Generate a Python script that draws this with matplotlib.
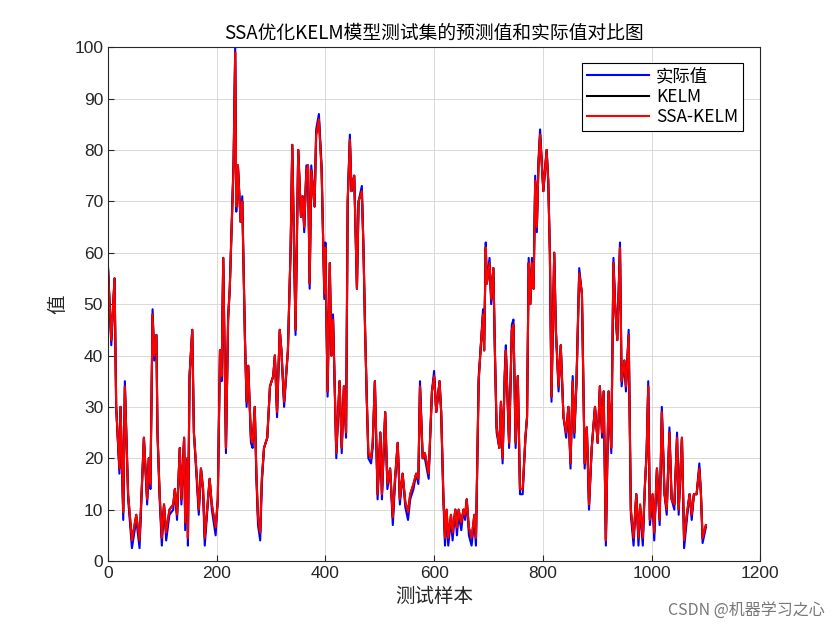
import matplotlib
matplotlib.use("Agg")
import matplotlib.pyplot as plt
from matplotlib import font_manager as fm

cjk_path = None
allf = fm.findSystemFonts()
for pref in ["NotoSansCJK-Regular", "NotoSansCJKsc-Regular", "NotoSansSC", "NotoSansCJK"]:
    hits = [p for p in allf if pref in p]
    if hits:
        cjk_path = sorted(hits)[0]
        break
if cjk_path is None:
    hits = [p for p in allf if "CJK" in p]
    cjk_path = sorted(hits)[0]
fm.fontManager.addfont(cjk_path)
cjk_name = fm.FontProperties(fname=cjk_path).get_name()
plt.rcParams["font.family"] = "sans-serif"
plt.rcParams["font.sans-serif"] = ["Liberation Sans", cjk_name, "DejaVu Sans"]
cjk = lambda size: fm.FontProperties(fname=cjk_path, size=size)

sample_idx = [0,6,12,15,21,23,28,31,37,44,52,58,66,72,75,78,82,85,89,91,95,99,103,107,113,120,123,127,132,135,
140,142,146,147,150,155,158,163,167,171,175,178,187,191,198,202,206,209,212,217,221,224,228,231,234,236,239,244,247,250,
252,255,258,263,266,270,273,276,280,283,287,293,298,304,307,311,316,319,324,331,336,339,345,350,355,358,361,365,368,371,
374,380,383,388,393,398,400,404,408,411,414,416,420,426,430,434,438,441,445,448,453,458,461,467,470,473,476,479,484,487,
491,496,501,504,510,514,519,524,528,533,537,542,547,552,556,562,567,571,574,579,583,590,596,600,604,610,613,617,620,623,
626,631,634,639,642,645,650,654,657,660,664,669,674,677,682,686,690,692,695,697,702,705,709,712,715,720,723,726,730,732,
738,743,746,750,754,758,763,768,771,774,777,780,783,786,789,792,795,801,807,810,813,816,821,824,829,833,838,843,847,851,
855,858,862,867,872,877,881,885,890,896,901,905,909,912,916,921,926,930,933,937,942,945,950,953,958,962,967,972,976,979,
984,988,991,994,997,1002,1005,1010,1015,1019,1024,1028,1033,1037,1042,1047,1050,1056,1060,1065,1070,1074,1078,1083,1088,1091,1094,1100]
actual = [57,42,55,30,17,30,8,35,12,2.5,8,2.5,24,11,20,14,49,39,44,25,12,3,11,4,9,10,14,8,22,11,
24,6,20,3,36,45,25,16,9,18,13,3,16,10,5,12,41,35,59,21,48,53,67,78,100,68,77,66,71,54,
43,30,38,23,22,30,16,7,4,15,22,24,34,36,40,28,45,41,30,41,61,81,44,80,67,71,64,77,77,53,
77,69,84,87,77,51,62,32,58,40,48,39,20,35,21,34,24,70,83,72,75,53,70,73,61,45,32,20,19,22,
35,12,25,12,29,14,18,7,15,23,11,17,10.5,8,12,14,17,15,35,20,20,16,33,37,29,35,29,12,3,9,
3,8,4,10,5,9,6,10,8,12,5,3,8,3,36,42,49,41,62,54,59,50,57,40,25,22,31,19,37,42,
22,46,47,22,36,13,13,24,28,59,50,59,53,75,64,78,84,72,80,74,60,31,60,45,33,42,28,24,30,18,
36,24,35,57,52,18,26,10,22,30,23,34,24,33,3,33,21,59,50,43,62,34,39,33,45,9,3,13,3,10,
3,15,21,35,7,12,4,18,7,30,13,9,26,12,10,25,9,24,2.5,8,13,8,13,13,19,13,3.5,6.5]
ssa_kelm = [57,43,55,30,18,30,9.5,34,13,4,9,4,24,12,20,15,48,40,44,25,13,4.5,11,5.5,10,11,14,9,22,12,
24,7.5,20,4.5,36,45,25,17,10,18,14,4.5,16,11,6.5,12,41,36,59,22,47,53,67,77,99,69,77,66,70,54,
43,31,38,24,23,30,17,8.5,5.5,16,22,24,34,36,40,29,45,41,31,41,61,81,45,80,67,71,65,76,77,54,
76,69,83,86,76,52,61,33,58,40,47,39,21,35,22,34,25,70,82,72,75,53,70,72,61,45,32,21,20,23,
35,13,25,13,29,15,18,8.5,16,23,12,17,11.5,9.5,13,15,17,16,34,20,21,17,33,36,29,35,29,13,4.5,10,
4.5,9,5.5,10,6.5,10,7.5,10,9,12,6.5,4.5,9,4.5,35,42,48,41,61,54,58,51,57,40,26,22,31,20,36,41,
23,45,46,23,36,14,14,24,28,58,50,58,53,74,65,77,83,72,80,74,60,32,60,45,34,42,28,25,30,19,
35,25,35,56,52,19,26,11,22,30,23,34,25,33,4,33,22,58,50,43,61,35,39,34,44,10,4.5,13,4.5,11,
4.5,15,21,34,8,13,5.5,18,8,29,13,10,25,12,11,24,10,24,4,9,13,9,13,13,18,13,4.5,7]
kelm = ssa_kelm

fig = plt.figure(figsize=(8.4, 6.3), dpi=100)
ax = fig.add_axes([0.1286, 0.1095, 0.7764, 0.8155])
ax.plot(sample_idx, actual, color="#0000ff", lw=1.5, label="实际值")
ax.plot(sample_idx, kelm, color="black", lw=1.5, label="KELM")
ax.plot(sample_idx, ssa_kelm, color="#ff0000", lw=1.5, label="SSA-KELM")
ax.set_xlim(0, 1200)
ax.set_ylim(0, 100)
ax.set_xticks(range(0, 1201, 200))
ax.set_yticks(range(0, 101, 10))
ax.grid(True, color="#d9d9d9", lw=0.7)
for s in ax.spines.values():
    s.set_color("#262626")
ax.tick_params(labelsize=12.5, direction="in", length=4, colors="#262626")
ax.set_xlabel("测试样本", fontproperties=cjk(14), color="#262626")
ax.set_ylabel("值", fontproperties=cjk(14), color="#262626")
ax.set_title("SSA优化KELM模型测试集的预测值和实际值对比图", fontproperties=cjk(13.5))
leg = ax.legend(loc="upper right", prop=cjk(12.5), fancybox=False, edgecolor="black",
                framealpha=1, bbox_to_anchor=(0.973, 0.97), borderaxespad=0.0,
                handlelength=3.6, borderpad=0.25, labelspacing=0.15, handletextpad=0.4)
leg.get_frame().set_linewidth(0.8)
fig.text(0.982, 0.018, "CSDN @机器学习之心", ha="right", va="bottom", fontproperties=cjk(11.5), color="#777777")
fig.savefig("out.png", dpi=100)
